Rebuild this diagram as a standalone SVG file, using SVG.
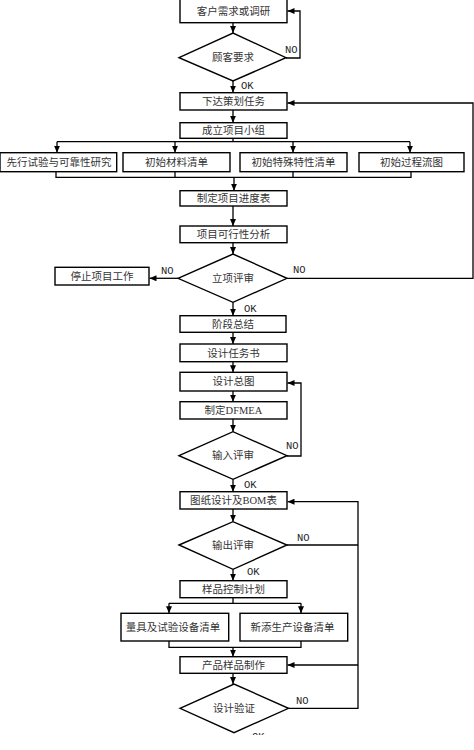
<svg xmlns="http://www.w3.org/2000/svg" width="474" height="750" viewBox="0 0 474 750">
<style>
.b{fill:#fff;stroke:#000;stroke-width:1.4}
.t{font-family:"Liberation Serif","Noto Sans CJK SC",serif;font-size:10.5px;fill:#333;text-anchor:middle;dominant-baseline:central}
.l{font-family:"Liberation Mono",monospace;font-size:10.5px;fill:#222}
.c{fill:none;stroke:#000;stroke-width:1.3}
</style>
<defs>
<marker id="a" markerUnits="userSpaceOnUse" markerWidth="8" markerHeight="6" refX="7" refY="3" orient="auto"><path d="M0,0 L7,3 L0,6 z" fill="#000"/></marker>
<clipPath id="cp"><rect x="0" y="0" width="474" height="735"/></clipPath>
</defs>
<rect width="474" height="750" fill="#fff"/>
<g id="connectors">
<path class="c" d="M233,22.7 V33" marker-end="url(#a)"/>
<path class="c" d="M286,58 H300 V11 H287.5" marker-end="url(#a)"/>
<path class="c" d="M233,81 V92.7" marker-end="url(#a)"/>
<path class="c" d="M233,110 V122.7" marker-end="url(#a)"/>
<path class="c" d="M233,138.3 V141.7 M57,141.7 H410"/>
<path class="c" d="M57,141.7 V152.7" marker-end="url(#a)"/>
<path class="c" d="M175,141.7 V152.7" marker-end="url(#a)"/>
<path class="c" d="M293,141.7 V152.7" marker-end="url(#a)"/>
<path class="c" d="M410,141.7 V152.7" marker-end="url(#a)"/>
<path class="c" d="M56,171.7 V177.3 H411 V171.7 M175,171.7 V177.3 M293,171.7 V177.3"/>
<path class="c" d="M234,177.3 V190.7" marker-end="url(#a)"/>
<path class="c" d="M233,206 V226" marker-end="url(#a)"/>
<path class="c" d="M233,242.7 V254" marker-end="url(#a)"/>
<path class="c" d="M178,278.3 H149.5" marker-end="url(#a)"/>
<path class="c" d="M287,278.3 H473 V103 H287.5" marker-end="url(#a)"/>
<path class="c" d="M233,302.3 V315.7" marker-end="url(#a)"/>
<path class="c" d="M233,332.3 V344" marker-end="url(#a)"/>
<path class="c" d="M233,361.7 V372.3" marker-end="url(#a)"/>
<path class="c" d="M233,391 V401.7" marker-end="url(#a)"/>
<path class="c" d="M233,419 V431.7" marker-end="url(#a)"/>
<path class="c" d="M287,456 H301 V383 H287.5" marker-end="url(#a)"/>
<path class="c" d="M233,479.3 V491.7" marker-end="url(#a)"/>
<path class="c" d="M233,509 V521.7" marker-end="url(#a)"/>
<path class="c" d="M287,545 H358"/>
<path class="c" d="M288.5,708.3 H358 V501.7 H287.5" marker-end="url(#a)"/>
<path class="c" d="M358,665 H287.5" marker-end="url(#a)"/>
<path class="c" d="M233,569.3 V580.7" marker-end="url(#a)"/>
<path class="c" d="M233,597.7 V603.3 H169 M233,603.3 H301"/>
<path class="c" d="M169,603.3 V613.3" marker-end="url(#a)"/>
<path class="c" d="M301,603.3 V613.3" marker-end="url(#a)"/>
<path class="c" d="M169,641 V647.3 H301 V641"/>
<path class="c" d="M233,647.3 V656.7" marker-end="url(#a)"/>
<path class="c" d="M233,673.3 V684" marker-end="url(#a)"/>
</g>
<g id="labels">
<text class="l" x="285" y="53">NO</text>
<text class="l" x="241" y="89">OK</text>
<text class="l" x="161" y="274">NO</text>
<text class="l" x="293" y="273">NO</text>
<text class="l" x="244" y="312">OK</text>
<text class="l" x="286" y="449">NO</text>
<text class="l" x="244" y="488">OK</text>
<text class="l" x="297" y="541">NO</text>
<text class="l" x="247" y="575">OK</text>
<text class="l" x="296" y="704">NO</text>
<text class="l" x="252" y="740" clip-path="url(#cp)">OK</text>
</g>
<g id="n1"><rect class="b" x="180" y="-2" width="107" height="24.7"/><text class="t" x="233.5" y="11.7">客户需求或调研</text></g>
<g id="n2"><polygon class="b" points="179,57.7 233,33 286,57.7 233,81"/><text class="t" x="233" y="57.7">顾客要求</text></g>
<g id="n3"><rect class="b" x="180" y="92.7" width="107" height="17.3"/><text class="t" x="233.5" y="101.3">下达策划任务</text></g>
<g id="n4"><rect class="b" x="180" y="122.7" width="107" height="15.6"/><text class="t" x="233.5" y="130.5">成立项目小组</text></g>
<g id="n5"><rect class="b" x="0" y="152.7" width="116.7" height="19"/><text class="t" x="59" y="162">先行试验与可靠性研究</text></g>
<g id="n6"><rect class="b" x="123" y="152.7" width="107" height="19"/><text class="t" x="176.5" y="162">初始材料清单</text></g>
<g id="n7"><rect class="b" x="240" y="152.7" width="107" height="19"/><text class="t" x="293.5" y="162">初始特殊特性清单</text></g>
<g id="n8"><rect class="b" x="359" y="152.7" width="105" height="19"/><text class="t" x="411.5" y="162">初始过程流图</text></g>
<g id="n9"><rect class="b" x="180" y="190.7" width="107" height="15.3"/><text class="t" x="233.5" y="198.3">制定项目进度表</text></g>
<g id="n10"><rect class="b" x="180" y="226" width="107" height="16.7"/><text class="t" x="233.5" y="234.3">项目可行性分析</text></g>
<g id="n11"><polygon class="b" points="178,278.3 233,254 287,278.3 233,302.3"/><text class="t" x="233" y="278.3">立项评审</text></g>
<g id="n12"><rect class="b" x="55" y="267.3" width="94" height="17.7"/><text class="t" x="102" y="276">停止项目工作</text></g>
<g id="n13"><rect class="b" x="180" y="315.7" width="106" height="16.6"/><text class="t" x="233" y="324">阶段总结</text></g>
<g id="n14"><rect class="b" x="180" y="344" width="107" height="17.7"/><text class="t" x="233.5" y="353">设计任务书</text></g>
<g id="n15"><rect class="b" x="180" y="372.3" width="107" height="18.7"/><text class="t" x="233.5" y="381.7">设计总图</text></g>
<g id="n16"><rect class="b" x="180" y="401.7" width="107" height="17.3"/><text class="t" x="233.5" y="410.3">制定DFMEA</text></g>
<g id="n17"><polygon class="b" points="179,455.7 233,431.7 287,455.7 233,479.3"/><text class="t" x="233" y="455.7">输入评审</text></g>
<g id="n18"><rect class="b" x="180" y="491.7" width="107" height="17.3"/><text class="t" x="233.5" y="500.3">图纸设计及BOM表</text></g>
<g id="n19"><polygon class="b" points="179,545 233,521.7 287,545 233,569.3"/><text class="t" x="233" y="545">输出评审</text></g>
<g id="n20"><rect class="b" x="180" y="580.7" width="107" height="17"/><text class="t" x="233.5" y="589">样品控制计划</text></g>
<g id="n21"><rect class="b" x="121" y="613.3" width="107.7" height="27.7"/><text class="t" x="173" y="627">量具及试验设备清单</text></g>
<g id="n22"><rect class="b" x="240" y="613.3" width="107.7" height="27.7"/><text class="t" x="292.5" y="627">新添生产设备清单</text></g>
<g id="n23"><rect class="b" x="180" y="656.7" width="107" height="16.6"/><text class="t" x="233.5" y="665">产品样品制作</text></g>
<g id="n24"><polygon class="b" points="180,708.3 234,684 288.5,708.3 234,732.7"/><text class="t" x="234" y="708.3">设计验证</text></g>
</svg>
